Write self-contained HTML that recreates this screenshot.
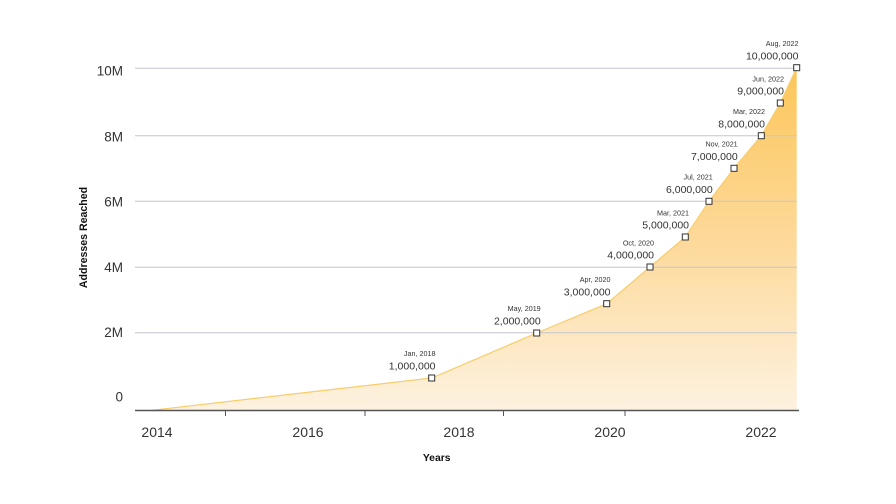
<!DOCTYPE html>
<html><head><meta charset="utf-8"><style>
html,body{margin:0;padding:0;background:#fff;}
svg{display:block;font-family:"Liberation Sans",Arial,sans-serif;}
</style></head><body>
<svg width="896" height="504" viewBox="0 0 896 504" xmlns="http://www.w3.org/2000/svg">
<defs>
<linearGradient id="g" x1="0" y1="68" x2="0" y2="410" gradientUnits="userSpaceOnUse">
<stop offset="0" stop-color="#fcc659"/>
<stop offset="0.5" stop-color="#fdd999"/>
<stop offset="1" stop-color="#fdf2e0"/>
</linearGradient>
</defs>
<path d="M151.7,410.3 L431.7,378 L536.7,333 L606.7,303.7 L650,267 L685.3,237 L709,201.3 L734,168.3 L761.3,135.7 L780.3,103 L796.7,67.7 L796.7,410.3 Z" fill="url(#g)"/>
<path d="M151.7,410.3 L431.7,378 L536.7,333 L606.7,303.7 L650,267 L685.3,237 L709,201.3 L734,168.3 L761.3,135.7 L780.3,103 L796.7,67.7" fill="none" stroke="#f9cc6a" stroke-width="1.2"/>
<g stroke="#c3c6cd" stroke-width="1">
<line x1="135" y1="68.3" x2="797" y2="68.3"/>
<line x1="135" y1="135.7" x2="797" y2="135.7"/>
<line x1="135" y1="201.3" x2="797" y2="201.3"/>
<line x1="135" y1="267.3" x2="797" y2="267.3"/>
<line x1="135" y1="332.7" x2="797" y2="332.7"/>
</g>
<line x1="135" y1="410.5" x2="799" y2="410.5" stroke="#555" stroke-width="1.5"/>
<g stroke="#555" stroke-width="1">
<line x1="225.5" y1="410" x2="225.5" y2="416"/>
<line x1="365" y1="410" x2="365" y2="416"/>
<line x1="503.5" y1="410" x2="503.5" y2="416"/>
<line x1="625" y1="410" x2="625" y2="416"/>
</g>
<g fill="#333" font-size="13.5" text-anchor="end">
<text x="123" y="75.5">10M</text>
<text x="123" y="141.5">8M</text>
<text x="123" y="206.5">6M</text>
<text x="123" y="272">4M</text>
<text x="123" y="337">2M</text>
<text x="123" y="401.5">0</text>
</g>
<g fill="#333" font-size="14" text-anchor="middle">
<text x="157" y="437">2014</text>
<text x="308" y="437">2016</text>
<text x="459" y="437">2018</text>
<text x="610" y="437">2020</text>
<text x="761" y="437">2022</text>
</g>
<text x="436.7" y="461" text-anchor="middle" font-size="10.4" font-weight="bold" fill="#111">Years</text>
<text transform="translate(87,237.5) rotate(-90)" text-anchor="middle" font-size="10.6" font-weight="bold" fill="#111">Addresses Reached</text>
<g fill="#fff" stroke="#333" stroke-width="1">
<rect x="428.7" y="375" width="6" height="6"/>
<rect x="533.7" y="330" width="6" height="6"/>
<rect x="603.7" y="300.7" width="6" height="6"/>
<rect x="647" y="264" width="6" height="6"/>
<rect x="682.3" y="234" width="6" height="6"/>
<rect x="706" y="198.3" width="6" height="6"/>
<rect x="731" y="165.3" width="6" height="6"/>
<rect x="758.3" y="132.7" width="6" height="6"/>
<rect x="777.3" y="100" width="6" height="6"/>
<rect x="793.7" y="64.7" width="6" height="6"/>
</g>
<g fill="#333" text-anchor="end">
<text x="435.5" y="356" font-size="7.2">Jan, 2018</text>
<text x="435.5" y="369.5" font-size="10.5">1,000,000</text>
<text x="540.7" y="311" font-size="7.2">May, 2019</text>
<text x="540.7" y="324.6" font-size="10.5">2,000,000</text>
<text x="610.5" y="282" font-size="7.2">Apr, 2020</text>
<text x="610.5" y="295.3" font-size="10.5">3,000,000</text>
<text x="654" y="245.3" font-size="7.2">Oct, 2020</text>
<text x="654" y="258.6" font-size="10.5">4,000,000</text>
<text x="689" y="215.3" font-size="7.2">Mar, 2021</text>
<text x="689" y="228.6" font-size="10.5">5,000,000</text>
<text x="712.7" y="179.6" font-size="7.2">Jul, 2021</text>
<text x="712.7" y="192.9" font-size="10.5">6,000,000</text>
<text x="737.7" y="146.6" font-size="7.2">Nov, 2021</text>
<text x="737.7" y="159.9" font-size="10.5">7,000,000</text>
<text x="765" y="114" font-size="7.2">Mar, 2022</text>
<text x="765" y="127.3" font-size="10.5">8,000,000</text>
<text x="784" y="81.3" font-size="7.2">Jun, 2022</text>
<text x="784" y="94.6" font-size="10.5">9,000,000</text>
<text x="798.5" y="46" font-size="7.2">Aug, 2022</text>
<text x="798.5" y="59.3" font-size="10.5">10,000,000</text>
</g>
</svg>
</body></html>
